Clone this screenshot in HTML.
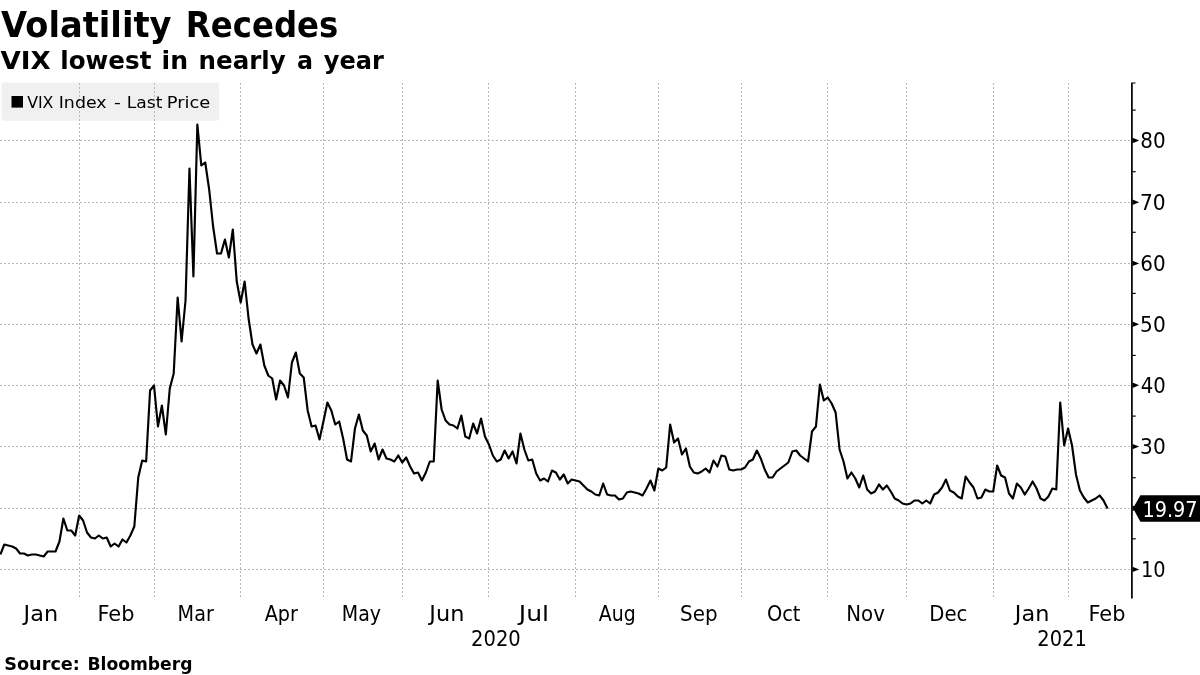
<!DOCTYPE html>
<html lang="en"><head><meta charset="utf-8"><title>Volatility Recedes</title>
<style>
html,body{margin:0;padding:0;background:#fff;width:1200px;height:675px;overflow:hidden}
svg{display:block;position:absolute;left:0;top:0}
text{white-space:pre}
</style></head><body>
<svg width="1200" height="675" viewBox="0 0 1200 675">
<rect width="1200" height="675" fill="#fff"/>
<rect x="1.5" y="82.5" width="217.7" height="38.3" rx="3" fill="#f0f0f0"/>
<g stroke="#b8b8b8" stroke-width="1" stroke-dasharray="2 2" fill="none" shape-rendering="crispEdges">
<line x1="79.5" y1="83" x2="79.5" y2="598.5"/>
<line x1="154.5" y1="83" x2="154.5" y2="598.5"/>
<line x1="240.5" y1="83" x2="240.5" y2="598.5"/>
<line x1="323.5" y1="83" x2="323.5" y2="598.5"/>
<line x1="402.5" y1="83" x2="402.5" y2="598.5"/>
<line x1="488.5" y1="83" x2="488.5" y2="598.5"/>
<line x1="575.0" y1="83" x2="575.0" y2="598.5"/>
<line x1="658.5" y1="83" x2="658.5" y2="598.5"/>
<line x1="741.5" y1="83" x2="741.5" y2="598.5"/>
<line x1="827.5" y1="83" x2="827.5" y2="598.5"/>
<line x1="906.5" y1="83" x2="906.5" y2="598.5"/>
<line x1="993.5" y1="83" x2="993.5" y2="598.5"/>
<line x1="1068.5" y1="83" x2="1068.5" y2="598.5"/>
<line x1="0" y1="140.5" x2="1131" y2="140.5"/>
<line x1="0" y1="202.5" x2="1131" y2="202.5"/>
<line x1="0" y1="263.5" x2="1131" y2="263.5"/>
<line x1="0" y1="324.5" x2="1131" y2="324.5"/>
<line x1="0" y1="385.5" x2="1131" y2="385.5"/>
<line x1="0" y1="446.5" x2="1131" y2="446.5"/>
<line x1="0" y1="508.5" x2="1131" y2="508.5"/>
<line x1="0" y1="569.5" x2="1131" y2="569.5"/>
</g>
<g fill="#000" stroke="none">
<rect x="1131.05" y="82.5" width="1.7" height="516"/>
<rect x="1132.5" y="82.5" width="3" height="1"/>
<rect x="1132.5" y="538.2" width="3.2" height="1.2"/>
<rect x="1132.5" y="477.1" width="3.2" height="1.2"/>
<rect x="1132.5" y="415.5" width="3.2" height="1.2"/>
<rect x="1132.5" y="354.8" width="3.2" height="1.2"/>
<rect x="1132.5" y="292.8" width="3.2" height="1.2"/>
<rect x="1132.5" y="231.7" width="3.2" height="1.2"/>
<rect x="1132.5" y="171.1" width="3.2" height="1.2"/>
<rect x="1132.5" y="109.5" width="3.2" height="1.2"/>
<path d="M1132.5 566.7 L1139.2 569.4 L1132.5 572.1 Z"/>
<path d="M1132.5 505.6 L1139.2 508.3 L1132.5 511.0 Z"/>
<path d="M1132.5 443.9 L1139.2 446.6 L1132.5 449.3 Z"/>
<path d="M1132.5 382.5 L1139.2 385.2 L1132.5 387.9 Z"/>
<path d="M1132.5 321.6 L1139.2 324.3 L1132.5 327.0 Z"/>
<path d="M1132.5 260.7 L1139.2 263.4 L1132.5 266.1 Z"/>
<path d="M1132.5 199.6 L1139.2 202.3 L1132.5 205.0 Z"/>
<path d="M1132.5 137.8 L1139.2 140.5 L1132.5 143.2 Z"/>
</g>
<polyline points="0.35,554.5 4.29,544.5 8.23,545.5 12.17,546.5 16.11,548.5 20.05,553.5 23.99,553.5 27.93,555.5 31.87,554.5 35.81,554.5 39.75,555.5 43.69,556.5 47.63,551.5 51.57,551.5 55.51,551.5 59.45,541.5 63.39,518.5 67.33,530.5 71.27,530.5 75.21,535.5 79.15,515.5 83.09,520.5 87.03,532.5 90.97,537.5 94.91,538.5 98.85,535.5 102.79,538.5 106.73,537.5 110.67,546.5 114.61,543.5 118.55,546.5 122.49,539.5 126.43,542.5 130.37,535.5 134.31,526.5 138.25,477.5 142.19,460.5 146.13,461.5 150.07,390.5 154.01,385.5 157.95,426.5 161.89,405.5 165.83,434.5 169.77,388.5 173.71,373.5 177.65,297.5 181.59,341.5 185.53,300.5 189.47,168.5 193.41,276.5 197.35,124.5 201.29,165.5 205.23,162.5 209.17,189.5 213.11,226.5 217.05,253.5 220.99,253.5 224.93,239.5 228.87,257.5 232.81,229.5 236.75,281.5 240.69,302.5 244.63,281.5 248.57,318.5 252.51,344.5 256.45,353.5 260.39,344.5 264.33,365.5 268.27,375.5 272.21,378.5 276.15,399.5 280.09,380.5 284.03,385.5 287.97,397.5 291.91,362.5 295.85,352.5 299.79,373.5 303.73,377.5 307.67,410.5 311.61,426.5 315.55,425.5 319.49,439.5 323.43,421.5 327.37,402.5 331.31,410.5 335.25,424.5 339.19,421.5 343.13,438.5 347.07,459.5 351.01,461.5 354.95,428.5 358.89,414.5 362.83,430.5 366.77,435.5 370.71,451.5 374.65,443.5 378.59,459.5 382.53,449.5 386.47,458.5 390.41,459.5 394.35,461.5 398.29,455.5 402.23,462.5 406.17,457.5 410.11,466.5 414.05,473.5 417.99,472.5 421.93,480.5 425.87,472.5 429.81,461.5 433.75,461.5 437.69,380.5 441.63,409.5 445.57,420.5 449.51,424.5 453.45,425.5 457.39,428.5 461.33,415.5 465.27,436.5 469.21,438.5 473.15,423.5 477.09,433.5 481.03,418.5 484.97,436.5 488.91,444.5 492.85,455.5 496.79,461.5 500.73,459.5 504.67,450.5 508.61,458.5 512.55,451.5 516.49,463.5 520.43,433.5 524.37,449.5 528.31,460.5 532.25,459.5 536.19,473.5 540.13,480.5 544.07,478.5 548.01,481.5 551.95,470.5 555.89,472.5 559.83,479.5 563.77,474.5 567.71,483.5 571.65,479.5 575.59,480.5 579.53,481.5 583.47,485.5 587.41,489.5 591.35,491.5 595.29,494.5 599.23,495.5 603.17,483.5 607.11,494.5 611.05,495.5 614.99,495.5 618.93,499.5 622.87,498.5 626.81,492.5 630.75,491.5 634.69,492.5 638.63,493.5 642.57,495.5 646.51,488.5 650.45,480.5 654.39,490.5 658.33,468.5 662.27,470.5 666.21,467.5 670.15,424.5 674.09,442.5 678.03,438.5 681.97,454.5 685.91,448.5 689.85,466.5 693.79,472.5 697.73,473.5 701.67,471.5 705.61,468.5 709.55,472.5 713.49,460.5 717.43,466.5 721.37,455.5 725.31,456.5 729.25,469.5 733.19,470.5 737.13,469.5 741.07,469.5 745.01,467.5 748.95,461.5 752.89,459.5 756.83,450.5 760.77,458.5 764.71,469.5 768.65,477.5 772.59,477.5 776.53,471.5 780.47,468.5 784.41,465.5 788.35,462.5 792.29,451.5 796.23,450.5 800.17,455.5 804.11,458.5 808.05,461.5 811.99,431.5 815.93,426.5 819.87,384.5 823.81,400.5 827.75,397.5 831.69,403.5 835.63,412.5 839.57,449.5 843.51,461.5 847.45,478.5 851.39,472.5 855.33,478.5 859.27,487.5 863.21,475.5 867.15,489.5 871.09,493.5 875.03,491.5 878.97,484.5 882.91,489.5 886.85,485.5 890.79,491.5 894.73,498.5 898.67,500.5 902.61,503.5 906.55,504.5 910.49,503.5 914.43,500.5 918.37,500.5 922.31,503.5 926.25,500.5 930.19,503.5 934.13,494.5 938.07,492.5 942.01,487.5 945.95,479.5 949.89,490.5 953.83,492.5 957.77,496.5 961.71,498.5 965.65,476.5 969.59,482.5 973.53,487.5 977.47,498.5 981.41,497.5 985.35,489.5 989.29,491.5 993.23,491.5 997.17,465.5 1001.11,475.5 1005.05,477.5 1008.99,493.5 1012.93,498.5 1016.87,483.5 1020.81,487.5 1024.75,494.5 1028.69,488.5 1032.63,481.5 1036.57,488.5 1040.51,498.5 1044.45,500.5 1048.39,496.5 1052.33,488.5 1056.27,489.5 1060.21,402.5 1064.15,445.5 1068.09,428.5 1072.03,445.5 1075.97,474.5 1079.91,490.5 1083.85,497.5 1087.79,502.5 1091.73,500.5 1095.67,498.5 1099.61,495.5 1103.55,500.5 1107.49,508.5" fill="none" stroke="#000" stroke-width="2.15" stroke-linejoin="round" stroke-linecap="butt"/>
<rect x="11.5" y="96" width="11.5" height="11.6" fill="#000"/>
<g font-family="'DejaVu Sans', 'Liberation Sans', sans-serif" fill="#000">
<text y="108.40" font-size="16.4"><tspan x="27.14" textLength="26.32" lengthAdjust="spacingAndGlyphs">VIX</tspan> <tspan x="58.76" textLength="47.81" lengthAdjust="spacingAndGlyphs">Index</tspan> <tspan x="114.06" textLength="6.81" lengthAdjust="spacingAndGlyphs">-</tspan> <tspan x="126.79" textLength="35.60" lengthAdjust="spacingAndGlyphs">Last</tspan> <tspan x="166.71" textLength="43.57" lengthAdjust="spacingAndGlyphs">Price</tspan></text>
<text y="36.75" font-size="35.1" font-weight="bold"><tspan x="1.03" textLength="170.48" lengthAdjust="spacingAndGlyphs">Volatility</tspan> <tspan x="185.84" textLength="152.47" lengthAdjust="spacingAndGlyphs">Recedes</tspan></text>
<text y="68.75" font-size="25.5" font-weight="bold"><tspan x="0.47" textLength="50.21" lengthAdjust="spacingAndGlyphs">VIX</tspan> <tspan x="60.31" textLength="91.11" lengthAdjust="spacingAndGlyphs">lowest</tspan> <tspan x="161.61" textLength="26.52" lengthAdjust="spacingAndGlyphs">in</tspan> <tspan x="198.56" textLength="87.17" lengthAdjust="spacingAndGlyphs">nearly</tspan> <tspan x="297.05" textLength="16.05" lengthAdjust="spacingAndGlyphs">a</tspan> <tspan x="323.74" textLength="60.09" lengthAdjust="spacingAndGlyphs">year</tspan></text>
<text y="669.50" font-size="16.8" font-weight="bold"><tspan x="4.26" textLength="75.65" lengthAdjust="spacingAndGlyphs">Source:</tspan> <tspan x="87.46" textLength="104.99" lengthAdjust="spacingAndGlyphs">Bloomberg</tspan></text>
<text x="23.62" y="620.75" font-size="20.7" textLength="34.46" lengthAdjust="spacingAndGlyphs">Jan</text>
<text x="97.41" y="620.75" font-size="20.7" textLength="37.00" lengthAdjust="spacingAndGlyphs">Feb</text>
<text x="177.58" y="620.75" font-size="20.7" textLength="36.20" lengthAdjust="spacingAndGlyphs">Mar</text>
<text x="264.71" y="620.75" font-size="20.7" textLength="33.29" lengthAdjust="spacingAndGlyphs">Apr</text>
<text x="341.80" y="620.75" font-size="20.7" textLength="39.21" lengthAdjust="spacingAndGlyphs">May</text>
<text x="429.37" y="620.75" font-size="20.7" textLength="34.98" lengthAdjust="spacingAndGlyphs">Jun</text>
<text x="518.76" y="620.75" font-size="20.7" textLength="30.29" lengthAdjust="spacingAndGlyphs">Jul</text>
<text x="598.71" y="620.75" font-size="20.7" textLength="36.95" lengthAdjust="spacingAndGlyphs">Aug</text>
<text x="680.11" y="620.75" font-size="20.7" textLength="37.48" lengthAdjust="spacingAndGlyphs">Sep</text>
<text x="766.93" y="620.75" font-size="20.7" textLength="33.53" lengthAdjust="spacingAndGlyphs">Oct</text>
<text x="846.27" y="620.75" font-size="20.7" textLength="38.60" lengthAdjust="spacingAndGlyphs">Nov</text>
<text x="929.28" y="620.75" font-size="20.7" textLength="38.16" lengthAdjust="spacingAndGlyphs">Dec</text>
<text x="1014.87" y="620.75" font-size="20.7" textLength="34.46" lengthAdjust="spacingAndGlyphs">Jan</text>
<text x="1088.41" y="620.75" font-size="20.7" textLength="37.00" lengthAdjust="spacingAndGlyphs">Feb</text>
</g>
<g font-family="'DejaVu Sans Condensed', 'DejaVu Sans', 'Liberation Sans', sans-serif" font-size="20.5" fill="#000">
<text x="471.09" y="645.75" font-size="21.0" textLength="49.69" lengthAdjust="spacingAndGlyphs">2020</text>
<text x="1037.35" y="645.75" font-size="21.0" textLength="49.47" lengthAdjust="spacingAndGlyphs">2021</text>
<text x="1141.05" y="577.00" font-size="21.0" textLength="24.63" lengthAdjust="spacingAndGlyphs">10</text>
<text x="1140.25" y="515.90" font-size="21.0" textLength="25.47" lengthAdjust="spacingAndGlyphs">20</text>
<text x="1140.13" y="454.20" font-size="21.0" textLength="25.60" lengthAdjust="spacingAndGlyphs">30</text>
<text x="1140.72" y="392.80" font-size="21.0" textLength="24.98" lengthAdjust="spacingAndGlyphs">40</text>
<text x="1140.13" y="331.90" font-size="21.0" textLength="25.60" lengthAdjust="spacingAndGlyphs">50</text>
<text x="1140.37" y="271.00" font-size="21.0" textLength="25.35" lengthAdjust="spacingAndGlyphs">60</text>
<text x="1140.01" y="209.90" font-size="21.0" textLength="25.72" lengthAdjust="spacingAndGlyphs">70</text>
<text x="1140.37" y="148.10" font-size="21.0" textLength="25.35" lengthAdjust="spacingAndGlyphs">80</text>
</g>
<path d="M1133 508.3 L1140.4 495.2 L1200 495.2 L1200 521.7 L1140.4 521.7 Z" fill="#000"/>
<g font-family="'DejaVu Sans Condensed', 'DejaVu Sans', 'Liberation Sans', sans-serif"><text x="1142.46" y="516.70" font-size="21.2" textLength="55.04" lengthAdjust="spacingAndGlyphs" fill="#fff">19.97</text></g>
</svg>
</body></html>
